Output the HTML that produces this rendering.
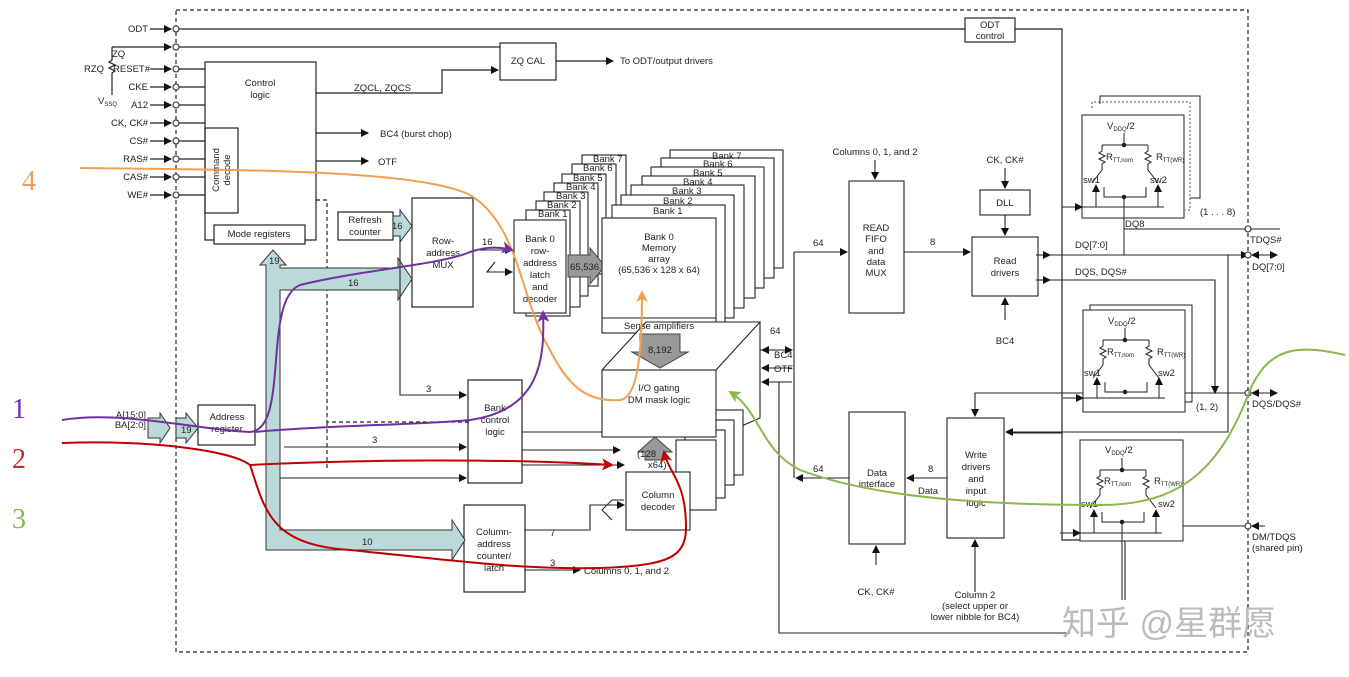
<!DOCTYPE html>
<html><head><meta charset="utf-8"><style>
html,body{margin:0;padding:0;background:#fff}
svg{display:block}
text{font-family:"Liberation Sans",sans-serif;font-size:9.5px;fill:#222}
</style></head><body>
<svg width="1349" height="677" viewBox="0 0 1349 677" xmlns="http://www.w3.org/2000/svg">
<defs>
<marker id="a" markerWidth="8" markerHeight="8" refX="7" refY="4" orient="auto" markerUnits="userSpaceOnUse"><path d="M0,0 L8,4 L0,8z" fill="#111"/></marker>
<marker id="ao" markerWidth="12" markerHeight="12" refX="10" refY="6" orient="auto" markerUnits="userSpaceOnUse"><path d="M0,0 L12,6 L0,12 L3,6z" fill="#f0a050"/></marker>
<marker id="ap" markerWidth="12" markerHeight="12" refX="10" refY="6" orient="auto" markerUnits="userSpaceOnUse"><path d="M0,0 L12,6 L0,12 L3,6z" fill="#7030a0"/></marker>
<marker id="ar" markerWidth="12" markerHeight="12" refX="10" refY="6" orient="auto" markerUnits="userSpaceOnUse"><path d="M0,0 L12,6 L0,12 L3,6z" fill="#c00000"/></marker>
<marker id="ag" markerWidth="12" markerHeight="12" refX="10" refY="6" orient="auto" markerUnits="userSpaceOnUse"><path d="M0,0 L12,6 L0,12 L3,6z" fill="#8ab84a"/></marker>
</defs>
<g fill="none" stroke="#222" stroke-width="1.2">
<rect x="176" y="10" width="1072" height="642" stroke-dasharray="4,3"/>
<path d="M316,200 H327 V422 H470 M327,422 V470" stroke-dasharray="4,3"/>
<path d="M176,29 H1062 V540 H1080 M176,47 H500 M176,69 H205 M176,87 H205 M176,105 H205 M176,123 H205 M176,141 H205 M176,159 H205 M176,177 H205 M176,195 H205"/>
</g>
<g fill="none" stroke="#222" stroke-width="1.2" marker-end="url(#a)">
<path d="M150,29 H171"/><path d="M150,47 H171"/><path d="M150,69 H171"/><path d="M150,87 H171"/><path d="M150,105 H171"/><path d="M150,123 H171"/><path d="M150,141 H171"/><path d="M150,159 H171"/><path d="M150,177 H171"/><path d="M150,195 H171"/>
<path d="M316,93 H442 V70 H498"/>
<path d="M556,61 H613"/>
<path d="M316,133 H368"/><path d="M316,161 H368"/>
</g>
<g fill="none" stroke="#222" stroke-width="1.2">
<path d="M112,47 H150 M112,47 V60 l-3,2 6,3 -6,3 6,3 -3,2 V95"/>
<rect x="205" y="62" width="111" height="178" fill="#fff"/>
<rect x="205" y="128" width="33" height="85"/>
<rect x="214" y="225" width="91" height="19" fill="#fff"/>
<rect x="500" y="43" width="56" height="37"/>
<rect x="965" y="18" width="50" height="24" fill="#fff"/>
<rect x="338" y="212" width="55" height="28"/>
<rect x="412" y="198" width="61" height="109"/>
<rect x="198" y="405" width="57" height="40"/>
<rect x="468" y="380" width="54" height="103"/>
<rect x="464" y="505" width="61" height="87"/>
</g>
<g fill="#bcd9d9" stroke="#333" stroke-width="1">
<path d="M266,550 V265 H260 L273,250 L286,265 H280 V268 H398 V258 L412,279 L398,300 V290 H280 V530 H452 V520 L465,540 L452,560 V550 Z"/>
<path d="M148,418 H160 V413 L170,428 L160,443 V438 H148 Z"/>
<path d="M176,418 H186 V413 L198,428 L186,443 V438 H176 Z"/>
<path d="M393,216 H400 V210 L412,226 L400,242 V236 H393 Z"/>
</g>
<g fill="none" stroke="#222" stroke-width="1.1" marker-end="url(#a)">
<path d="M400,236 V395 H466"/><path d="M284,447 H466"/><path d="M280,478 H466"/>
<path d="M473,250 H512"/>
<path d="M495,262 L487,272 H512"/>
<path d="M525,530 H590 V505 H624"/><path d="M525,570 H580"/>
<path d="M522,432 H620"/><path d="M522,450 H620"/><path d="M522,465 H624"/>
</g>
<path d="M612,520 L602,510 L612,500 H624" fill="none" stroke="#222"/>
<g fill="#fff" stroke="#222" stroke-width="1.1">
<rect x="582" y="155" width="44" height="95"/>
<rect x="572" y="164" width="44" height="98"/>
<rect x="562" y="174" width="44" height="100"/>
<rect x="554" y="183" width="44" height="103"/>
<rect x="544" y="192" width="44" height="104"/>
<rect x="536" y="201" width="44" height="106"/>
<rect x="526" y="210" width="44" height="106"/>
<rect x="514" y="220" width="52" height="93"/>
</g>
<g font-size="9"><text x="593" y="162">Bank 7</text><text x="583" y="171">Bank 6</text><text x="573" y="181">Bank 5</text><text x="566" y="190">Bank 4</text><text x="556" y="199">Bank 3</text><text x="547" y="208">Bank 2</text><text x="538" y="217">Bank 1</text></g>
<g fill="#fff" stroke="#222" stroke-width="1.1">
<rect x="670" y="150" width="113" height="118"/>
<rect x="661" y="158" width="113" height="120"/>
<rect x="651" y="167" width="113" height="121"/>
<rect x="642" y="176" width="113" height="122"/>
<rect x="631" y="185" width="113" height="123"/>
<rect x="621" y="195" width="113" height="123"/>
<rect x="612" y="205" width="113" height="123"/>
</g>
<path d="M568,255 H590 V248 L605,266 L590,284 V277 H568 Z" fill="#999" stroke="#444"/>
<rect x="602" y="218" width="114" height="115" fill="#fff" stroke="#222" stroke-width="1.1"/>
<line x1="602" y1="318" x2="716" y2="318" stroke="#222"/>
<g font-size="9"><text x="712" y="159">Bank 7</text><text x="703" y="167">Bank 6</text><text x="693" y="176">Bank 5</text><text x="683" y="185">Bank 4</text><text x="672" y="194">Bank 3</text><text x="663" y="204">Bank 2</text><text x="653" y="214">Bank 1</text></g>
<g fill="#fff" stroke="#222" stroke-width="1.1">
<path d="M716,370 L760,322 V418 L716,437"/>
<path d="M602,370 L646,322 H760"/>
<rect x="703" y="410" width="40" height="65"/><rect x="694" y="420" width="40" height="65"/><rect x="685" y="430" width="40" height="68"/><rect x="676" y="440" width="40" height="70"/>
</g>
<path d="M640,334 H680 V352 H688 L660,368 L632,352 H640 Z" fill="#999" stroke="#444"/>
<rect x="602" y="370" width="114" height="67" fill="#fff" stroke="#222" stroke-width="1.1"/>
<path d="M645,460 V452 H638 L655,437 L672,452 H665 V460 Z" fill="#999" stroke="#444"/>
<rect x="626" y="472" width="64" height="58" fill="#fff" stroke="#222" stroke-width="1.1"/>
<g fill="none" stroke="#222" stroke-width="1.1">
<rect x="849" y="181" width="55" height="132"/>
<rect x="849" y="412" width="56" height="132"/>
<rect x="972" y="237" width="66" height="59"/>
<rect x="980" y="190" width="50" height="25"/>
<rect x="947" y="418" width="57" height="120"/>
<path d="M1010,393 H1248 M779,382 V633 H1070 M1010,433 H1062 M794,478 V252"/>
<path d="M1248,526 H1125 V600"/>
</g>
<g fill="none" stroke="#222" stroke-width="1.1" marker-end="url(#a)">
<path d="M794,252 H847"/><path d="M904,252 H970"/><path d="M875,160 V179"/><path d="M1005,168 V188"/><path d="M1005,215 V235"/><path d="M1005,320 V298"/><path d="M876,565 V546"/><path d="M975,592 V540"/>
<path d="M1038,255 H1248"/><path d="M1038,280 H1215 V393"/><path d="M1228,255 V432 H1006"/><path d="M1010,393 H975 V416"/>
<path d="M849,478 H796"/><path d="M947,478 H907"/>
<path d="M760,350 H792"/><path d="M776,350 H762"/><path d="M792,368 H762"/><path d="M792,382 H762"/>
<path d="M1036,255 H1050"/><path d="M1036,280 H1050"/>
</g>
<g transform="translate(1082,115)" fill="none" stroke="#222" stroke-width="1">
<rect x="0" y="0" width="102" height="103" fill="#fff"/>
<path d="M42,18 V30 M20,30 H66 M20,30 V36 l-3,2 6,3 -6,3 6,3 -3,2 V55 L10,68 M66,30 V36 l-3,2 6,3 -6,3 6,3 -3,2 V55 L76,68 M22,72 V82 H64 V72 M42,82 V140"/>
<path d="M0,92 H82"/><path d="M14,92 V70" marker-end="url(#a)"/><path d="M76,92 V70" marker-end="url(#a)"/>
<path d="M-20,92 H0" marker-end="url(#a)"/>
<circle cx="42" cy="30" r="1.8" fill="#222"/><circle cx="42" cy="82" r="1.8" fill="#222"/>
</g>
<g fill="none" stroke="#555" stroke-dasharray="2,2"><path d="M1092,108 V102 H1190 V210 H1185"/></g>
<path d="M1100,104 V96 H1200 V198 H1190" fill="none" stroke="#222"/>
<g transform="translate(1083,310)" fill="none" stroke="#222" stroke-width="1">
<rect x="0" y="0" width="102" height="102" fill="#fff"/>
<path d="M42,18 V30 M20,30 H66 M20,30 V36 l-3,2 6,3 -6,3 6,3 -3,2 V55 L10,68 M66,30 V36 l-3,2 6,3 -6,3 6,3 -3,2 V55 L76,68 M22,72 V82 H64 V72 M42,82 V83"/>
<path d="M0,88 H82"/><path d="M14,88 V68" marker-end="url(#a)"/><path d="M76,88 V68" marker-end="url(#a)"/>
<path d="M-20,88 H0" marker-end="url(#a)"/>
<circle cx="42" cy="30" r="1.8" fill="#222"/><circle cx="42" cy="82" r="1.8" fill="#222"/>
</g>
<path d="M1090,310 V305 H1192 V402 H1185" fill="none" stroke="#222"/>
<g transform="translate(1080,440)" fill="none" stroke="#222" stroke-width="1">
<rect x="0" y="0" width="103" height="101" fill="#fff"/>
<path d="M42,18 V30 M20,30 H66 M20,30 V36 l-3,2 6,3 -6,3 6,3 -3,2 V55 L10,68 M66,30 V36 l-3,2 6,3 -6,3 6,3 -3,2 V55 L76,68 M22,72 V82 H64 V72 M42,82 V160"/>
<path d="M0,93 H82"/><path d="M14,93 V70" marker-end="url(#a)"/><path d="M76,93 V70" marker-end="url(#a)"/>
<path d="M-20,93 H0" marker-end="url(#a)"/>
<circle cx="42" cy="30" r="1.8" fill="#222"/><circle cx="42" cy="82" r="1.8" fill="#222"/>
</g>
<path d="M1124,229 H1280" stroke="#222"/>
<g fill="#fff" stroke="#222"><circle cx="176" cy="29" r="3"/><circle cx="176" cy="47" r="3"/><circle cx="176" cy="69" r="3"/><circle cx="176" cy="87" r="3"/><circle cx="176" cy="105" r="3"/><circle cx="176" cy="123" r="3"/><circle cx="176" cy="141" r="3"/><circle cx="176" cy="159" r="3"/><circle cx="176" cy="177" r="3"/><circle cx="176" cy="195" r="3"/>
<circle cx="1248" cy="229" r="3"/><circle cx="1248" cy="255" r="3"/><circle cx="1248" cy="393" r="3"/><circle cx="1248" cy="526" r="3"/></g>
<g stroke="#222" fill="none" marker-end="url(#a)"><path d="M1270,255 H1252"/><path d="M1270,393 H1252"/><path d="M1265,526 H1252"/><path d="M1262,255 H1277"/><path d="M1262,393 H1277"/></g>
<g text-anchor="end"><text x="148" y="32">ODT</text><text x="150" y="72">RESET#</text><text x="148" y="90">CKE</text><text x="148" y="108">A12</text><text x="148" y="126">CK, CK#</text><text x="148" y="144">CS#</text><text x="148" y="162">RAS#</text><text x="148" y="180">CAS#</text><text x="148" y="198">WE#</text><text x="104" y="72">RZQ</text><text x="146" y="418">A[15:0]</text><text x="146" y="428">BA[2:0]</text></g>
<text x="112" y="57">ZQ</text><text x="98" y="104">V<tspan font-size="6" dy="2">SSQ</tspan></text>
<g text-anchor="middle">
<text x="260" y="86">Control</text><text x="260" y="98">logic</text>
<text x="259" y="237">Mode registers</text>
<text x="365" y="223">Refresh</text><text x="365" y="235">counter</text>
<text x="443" y="244">Row-</text><text x="443" y="256">address</text><text x="443" y="268">MUX</text>
<text x="227" y="420">Address</text><text x="227" y="432">register</text>
<text x="495" y="411">Bank</text><text x="495" y="423">control</text><text x="495" y="435">logic</text>
<text x="494" y="535">Column-</text><text x="494" y="547">address</text><text x="494" y="559">counter/</text><text x="494" y="571">latch</text>
<text x="540" y="242">Bank 0</text><text x="540" y="254">row-</text><text x="540" y="266">address</text><text x="540" y="278">latch</text><text x="540" y="290">and</text><text x="540" y="302">decoder</text>
<text x="659" y="240">Bank 0</text><text x="659" y="251">Memory</text><text x="659" y="262">array</text><text x="659" y="273">(65,536  x 128 x 64)</text>
<text x="659" y="329">Sense amplifiers</text>
<text x="659" y="391">I/O gating</text><text x="659" y="403">DM mask logic</text>
<text x="658" y="498">Column</text><text x="658" y="510">decoder</text>
<text x="528" y="64">ZQ CAL</text>
<text x="990" y="28">ODT</text><text x="990" y="39">control</text>
<text x="876" y="231">READ</text><text x="876" y="242">FIFO</text><text x="876" y="254">and</text><text x="876" y="265">data</text><text x="876" y="276">MUX</text>
<text x="875" y="155">Columns 0, 1, and 2</text>
<text x="1005" y="163">CK, CK#</text><text x="1005" y="206">DLL</text>
<text x="1005" y="264">Read</text><text x="1005" y="276">drivers</text><text x="1005" y="344">BC4</text>
<text x="877" y="476">Data</text><text x="877" y="487">interface</text>
<text x="976" y="458">Write</text><text x="976" y="470">drivers</text><text x="976" y="482">and</text><text x="976" y="494">input</text><text x="976" y="506">logic</text>
<text x="876" y="595">CK, CK#</text>
<text x="975" y="598">Column 2</text><text x="975" y="609">(select upper or</text><text x="975" y="620">lower nibble for BC4)</text>
<g transform="translate(221,170) rotate(-90)"><text x="0" y="-2">Command</text><text x="0" y="9">decode</text></g>
</g>
<text x="354" y="91">ZQCL, ZQCS</text>
<text x="380" y="137">BC4 (burst chop)</text><text x="378" y="165">OTF</text>
<text x="620" y="64">To ODT/output drivers</text>
<text x="392" y="229" font-size="9">16</text><text x="482" y="245">16</text><text x="348" y="286">16</text><text x="181" y="433">19</text><text x="269" y="264">19</text><text x="362" y="545">10</text>
<text x="426" y="392">3</text><text x="372" y="443">3</text><text x="550" y="536">7</text><text x="550" y="566">3</text>
<text x="584" y="574">Columns 0, 1, and 2</text>
<text x="570" y="270">65,536</text><text x="648" y="353">8,192</text><text x="637" y="457">(128</text><text x="648" y="468">x64)</text>
<text x="770" y="334">64</text><text x="774" y="358">BC4</text><text x="774" y="372">OTF</text>
<text x="813" y="246">64</text><text x="930" y="245">8</text><text x="813" y="472">64</text><text x="928" y="472">8</text><text x="918" y="494">Data</text>
<text x="1075" y="248">DQ[7:0]</text><text x="1075" y="275">DQS, DQS#</text><text x="1125" y="227">DQ8</text>
<text x="1250" y="243">TDQS#</text><text x="1252" y="270">DQ[7:0]</text><text x="1252" y="407">DQS/DQS#</text><text x="1252" y="540">DM/TDQS</text><text x="1252" y="551">(shared pin)</text>
<text x="1200" y="215">(1 . . . 8)</text><text x="1196" y="410">(1, 2)</text>
<g font-size="8">
<text x="1107" y="129">V<tspan font-size="6" dy="2">DDQ</tspan><tspan dy="-2">/2</tspan></text><text x="1106" y="160">R<tspan font-size="6" dy="2">TT,nom</tspan></text><text x="1156" y="160">R<tspan font-size="6" dy="2">TT(WR)</tspan></text><text x="1083" y="183">sw1</text><text x="1150" y="183">sw2</text>
<text x="1108" y="324">V<tspan font-size="6" dy="2">DDQ</tspan><tspan dy="-2">/2</tspan></text><text x="1107" y="355">R<tspan font-size="6" dy="2">TT,nom</tspan></text><text x="1157" y="355">R<tspan font-size="6" dy="2">TT(WR)</tspan></text><text x="1084" y="376">sw1</text><text x="1158" y="376">sw2</text>
<text x="1105" y="453">V<tspan font-size="6" dy="2">DDQ</tspan><tspan dy="-2">/2</tspan></text><text x="1104" y="484">R<tspan font-size="6" dy="2">TT,nom</tspan></text><text x="1154" y="484">R<tspan font-size="6" dy="2">TT(WR)</tspan></text><text x="1081" y="507">sw1</text><text x="1158" y="507">sw2</text>
</g>
<g fill="none" stroke-width="2">
<path d="M80,168 C250,170 420,170 470,195 C520,225 520,300 550,350 C570,390 590,402 620,400 C640,398 642,340 642,292" stroke="#f0a050" marker-end="url(#ao)"/>
<path d="M62,420 C120,410 200,430 250,432 C290,430 262,300 300,285 C360,270 440,265 470,252 C490,245 505,248 512,250" stroke="#7030a0" marker-end="url(#ap)"/>
<path d="M255,432 C330,425 420,425 470,420 C540,410 545,360 543,312" stroke="#7030a0" marker-end="url(#ap)"/>
<path d="M62,443 C150,440 230,450 250,465 C350,460 500,458 612,465" stroke="#c00000" marker-end="url(#ar)"/>
<path d="M250,465 C265,510 270,545 350,550 C450,560 520,570 600,568 C680,565 690,555 685,510 C682,480 668,470 664,452" stroke="#c00000" marker-end="url(#ar)"/>
<path d="M1345,355 C1300,345 1270,345 1250,390 C1220,470 1180,505 1100,505 C1000,505 880,500 800,470 C760,450 760,410 730,392" stroke="#8ab84a" marker-end="url(#ag)"/>
</g>
<text x="22" y="190" style="font-size:28px;fill:#e8a060;font-family:'Liberation Serif',serif">4</text>
<text x="12" y="418" style="font-size:28px;fill:#7030a0;font-family:'Liberation Serif',serif">1</text>
<text x="12" y="468" style="font-size:28px;fill:#c03030;font-family:'Liberation Serif',serif">2</text>
<text x="12" y="528" style="font-size:28px;fill:#8ab84a;font-family:'Liberation Serif',serif">3</text>
<text x="1062" y="635" style="font-size:34px;fill:#bbb;font-family:'Liberation Sans','Noto Sans CJK SC',sans-serif">知乎 @星群愿</text>
</svg>
</body></html>
